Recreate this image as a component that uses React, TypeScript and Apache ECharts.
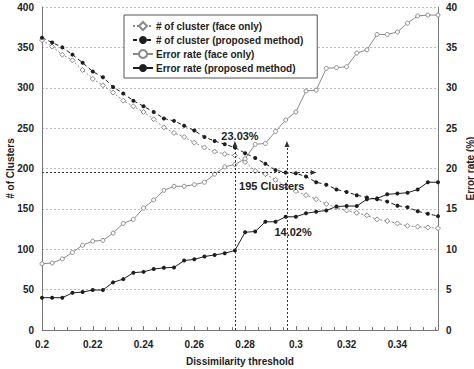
import React, { useEffect, useRef } from "react";
import * as echarts from "echarts";

const thresholds: number[] = Array.from({ length: 40 }, (_, i) => +(0.2 + 0.004 * i).toFixed(3));

const clusterFaceOnly = [359, 351, 341, 334, 322, 311, 303, 294, 284, 277, 270, 261, 251, 244, 239, 232, 226, 221, 218, 216, 208, 197, 193, 186, 178, 172, 167, 162, 156, 152, 148, 145, 142, 137, 135, 132, 129, 128, 127, 126];
const clusterProposed = [362, 356, 350, 341, 331, 320, 313, 301, 293, 284, 277, 270, 262, 259, 253, 247, 239, 234, 230, 226, 219, 213, 206, 198, 195, 194, 190, 183, 180, 174, 171, 167, 164, 162, 159, 154, 152, 147, 144, 141];
const errorFaceOnly = [8.2, 8.3, 8.8, 9.6, 10.5, 11.0, 11.1, 12.0, 13.2, 13.7, 15.1, 16.1, 17.3, 17.8, 17.8, 18.0, 18.3, 19.3, 20.2, 20.5, 21.2, 23.0, 23.1, 24.6, 26.0, 27.0, 29.6, 29.7, 32.4, 32.5, 32.6, 34.3, 34.7, 36.6, 36.6, 36.9, 38.0, 38.9, 39.0, 39.0];
const errorProposed = [4.0, 4.0, 4.0, 4.6, 4.7, 4.95, 4.95, 5.9, 6.3, 7.1, 7.2, 7.55, 7.7, 7.75, 8.6, 8.75, 9.1, 9.3, 9.5, 9.85, 12.1, 12.2, 13.4, 13.4, 14.02, 14.02, 14.45, 14.65, 14.8, 15.3, 15.35, 15.35, 16.2, 16.3, 16.8, 16.9, 17.0, 17.4, 18.3, 18.3];

const seriesNames = ["# of cluster (face only)", "# of cluster (proposed method)", "Error rate (face only)", "Error rate (proposed method)"];
const xTicks = { min: 0.2, max: 0.356, step: 0.02 };
const leftTicks = { min: 0, max: 400, step: 50 };
const rightTicks = { min: 0, max: 40, step: 5 };

const markA = { x: 0.276, rate: 23.03 };
const markB = { x: 0.2965, rate: 23.03, clusters: 195, lineEnd: 0.307 };
const annotations = [
  { text: "23.03%", x: 0.278, y: 24.0 },
  { text: "195 Clusters", x: 0.2905, y: 17.8 },
  { text: "14.02%", x: 0.2989, y: 12.1 },
];

const FONT = "'Liberation Sans', Arial, sans-serif";

export default function App() {
  const ref = useRef<HTMLDivElement>(null);
  useEffect(() => {
    if (!ref.current) return;
    const chart = echarts.init(ref.current, undefined, { renderer: "svg" });
    const pair = (arr: number[]) => arr.map((v, i) => [thresholds[i], v]);
    const gray = "#8a8a8a";
    const dark = "#1e1e1e";
    const textStyle = { fontFamily: FONT, fontWeight: "bold" as const, fontSize: 10, color: "#222" };
    chart.setOption({
      animation: false,
      textStyle: { fontFamily: FONT },
      grid: { left: 42, right: 36, top: 7, bottom: 39, outerBoundsMode: "none", containLabel: false },
      legend: {
        orient: "vertical",
        left: 124,
        top: 15,
        padding: [6, 14, 5, 8],
        itemGap: 4,
        itemWidth: 20,
        itemHeight: 10,
        backgroundColor: "#fff",
        borderColor: "#555",
        borderWidth: 1,
        borderRadius: 0,
        textStyle: { ...textStyle, padding: [0, 0, 0, -2] },
        data: seriesNames,
      },
      xAxis: {
        type: "value",
        min: xTicks.min,
        max: xTicks.max,
        interval: xTicks.step,
        name: "Dissimilarity threshold",
        nameLocation: "middle",
        nameGap: 26,
        nameMoveOverlap: false,
        nameTextStyle: { ...textStyle, fontSize: 10 },
        axisLine: { lineStyle: { color: "#777" } },
        axisTick: { inside: true, length: 4, lineStyle: { color: "#777" } },
        minorTick: { show: true, splitNumber: 4, length: 3, lineStyle: { color: "#777" } },
        axisLabel: { ...textStyle, margin: 9, showMaxLabel: false },
        splitLine: { show: false },
      },
      yAxis: [
        {
          type: "value",
          min: leftTicks.min,
          max: leftTicks.max,
          interval: leftTicks.step,
          name: "# of Clusters",
          nameLocation: "middle",
          nameRotate: 90,
          nameGap: 27,
          nameMoveOverlap: false,
          nameTextStyle: { ...textStyle },
          axisLine: { show: true, lineStyle: { color: "#777" } },
          axisTick: { show: false },
          axisLabel: { ...textStyle, margin: 8 },
          splitLine: { show: true, lineStyle: { color: "#bbb", type: [2, 2] } },
        },
        {
          type: "value",
          min: rightTicks.min,
          max: rightTicks.max,
          interval: rightTicks.step,
          position: "right",
          name: "Error rate (%)",
          nameLocation: "middle",
          nameRotate: 90,
          nameGap: 27,
          nameMoveOverlap: false,
          nameTextStyle: { ...textStyle },
          axisLine: { show: true, lineStyle: { color: "#777" } },
          axisTick: { show: false },
          axisLabel: { ...textStyle, margin: 8 },
          splitLine: { show: false },
        },
      ],
      series: [
        {
          name: seriesNames[0],
          type: "line",
          yAxisIndex: 0,
          data: pair(clusterFaceOnly),
          symbol: "diamond",
          symbolSize: 5,
          showAllSymbol: true,
          lineStyle: { color: gray, width: 1, type: [2, 2] },
          itemStyle: { color: "#fff", borderColor: gray, borderWidth: 1 },
          markLine: {
            silent: true,
            symbol: ["none", "triangle"],
            symbolSize: [5, 6],
            label: { show: false },
            lineStyle: { color: "#333", type: [2, 2], width: 1 },
            data: [[{ coord: [xTicks.min, markB.clusters] }, { coord: [markB.lineEnd, markB.clusters] }]],
          },
        },
        {
          name: seriesNames[1],
          type: "line",
          yAxisIndex: 0,
          data: pair(clusterProposed),
          symbol: "circle",
          symbolSize: 4,
          showAllSymbol: true,
          lineStyle: { color: dark, width: 1, type: [4, 3] },
          itemStyle: { color: dark },
        },
        {
          name: seriesNames[2],
          type: "line",
          yAxisIndex: 1,
          data: pair(errorFaceOnly),
          symbol: "circle",
          symbolSize: 4,
          showAllSymbol: true,
          lineStyle: { color: gray, width: 1 },
          itemStyle: { color: "#fff", borderColor: gray, borderWidth: 1 },
          markLine: {
            silent: true,
            symbol: ["none", "triangle"],
            symbolSize: [5, 6],
            label: { show: false },
            lineStyle: { color: "#333", type: [2, 2], width: 1 },
            data: [
              [{ coord: [markA.x, 0] }, { coord: [markA.x, markA.rate] }],
              [{ coord: [markB.x, 0] }, { coord: [markB.x, markB.rate] }],
            ],
          },
        },
        {
          name: seriesNames[3],
          type: "line",
          yAxisIndex: 1,
          data: pair(errorProposed),
          symbol: "circle",
          symbolSize: 4,
          showAllSymbol: true,
          lineStyle: { color: dark, width: 1 },
          itemStyle: { color: dark },
          markPoint: {
            silent: true,
            symbol: "rect",
            symbolSize: 0,
            label: { show: true, position: "inside", ...textStyle, fontSize: 11, formatter: (p: any) => p.name },
            data: annotations.map((a) => ({ name: a.text, coord: [a.x, a.y] })),
          },
        },
      ],
    });
    return () => chart.dispose();
  }, []);
  return <div ref={ref} style={{ position: "absolute", left: 0, top: 0, width: 474, height: 369 }} />;
}
